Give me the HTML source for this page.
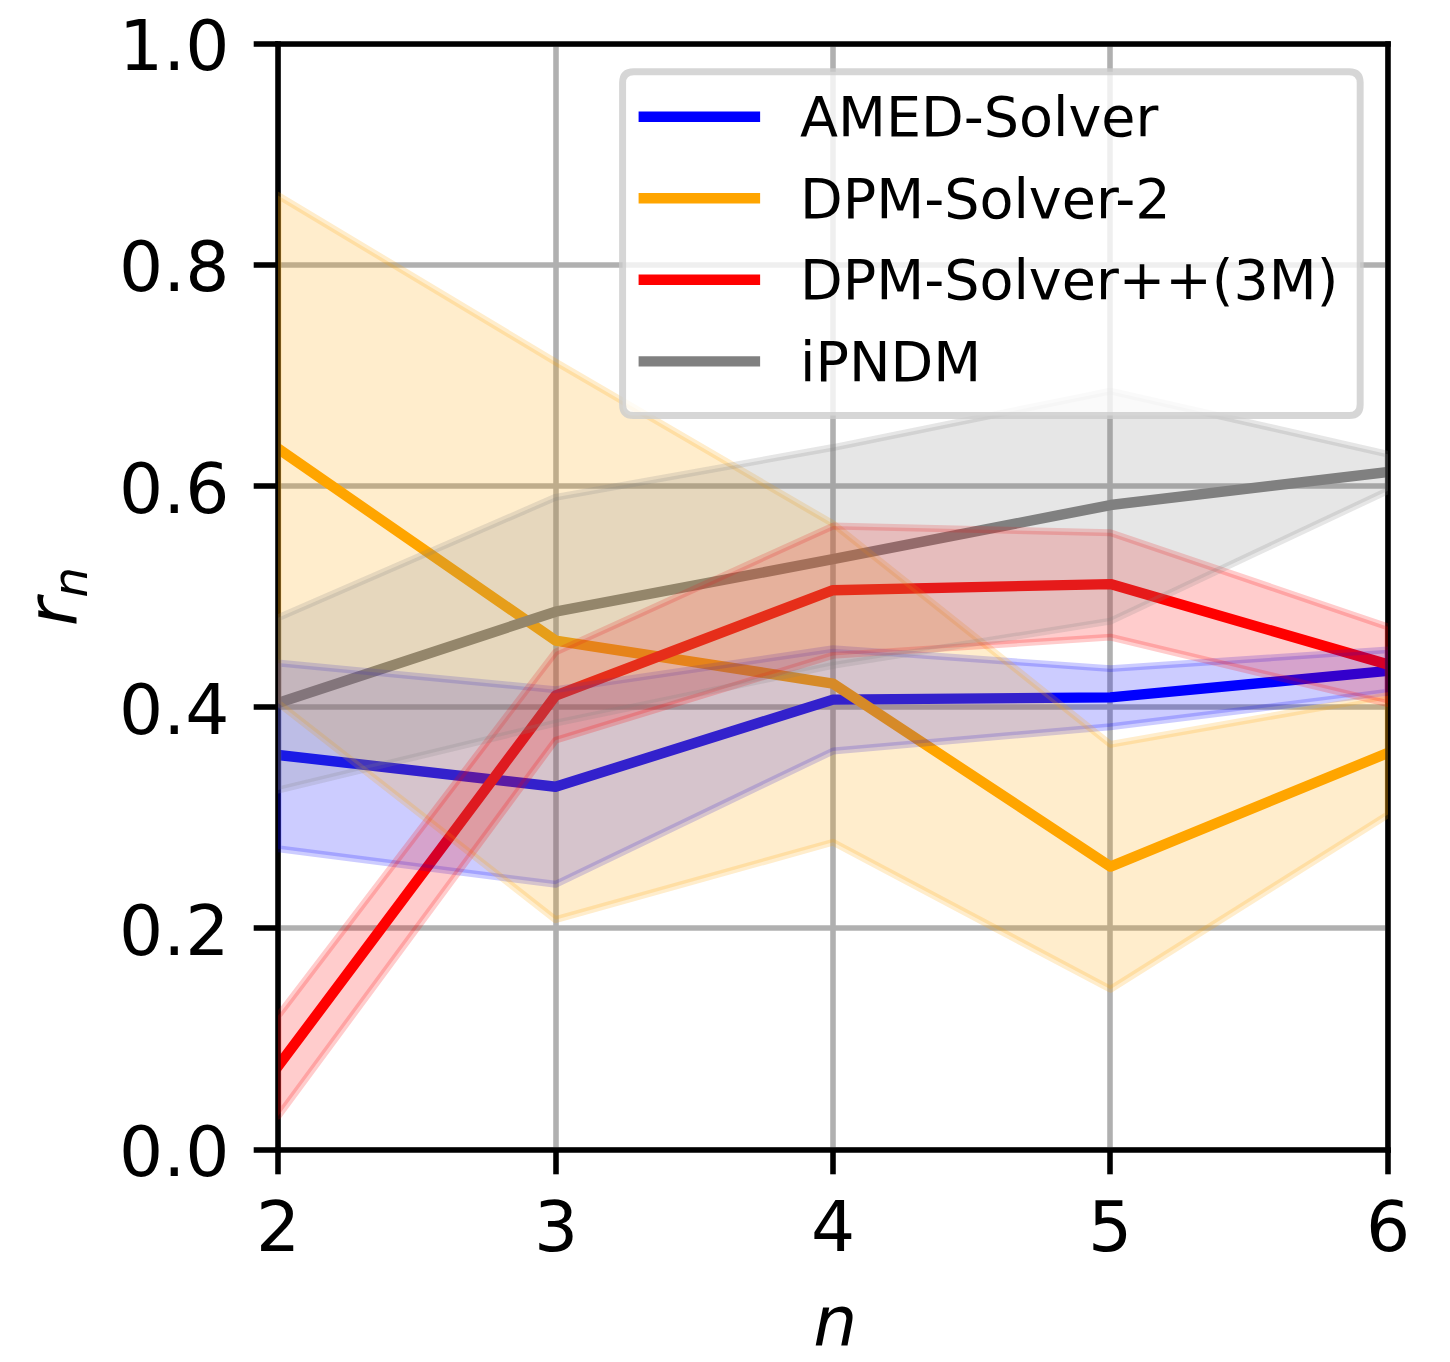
<!DOCTYPE html>
<html><head><meta charset="utf-8"><title>r_n vs n</title>
<style>html,body{margin:0;padding:0;background:#fff;overflow:hidden}svg{display:block}</style>
</head><body>
<svg width="1450" height="1362" viewBox="0 0 1450 1362">
<defs><clipPath id="ax"><rect x="278" y="44" width="1110" height="1106"/></clipPath></defs>
<rect x="0" y="0" width="1450" height="1362" fill="#ffffff"/>
<g clip-path="url(#ax)" fill="none" stroke="#b0b0b0" stroke-width="5.5556" stroke-linecap="square">
<path d="M278 1150V44"/>
<path d="M556 1150V44"/>
<path d="M833 1150V44"/>
<path d="M1110 1150V44"/>
<path d="M1388 1150V44"/>
<path d="M278 1150H1388"/>
<path d="M278 928H1388"/>
<path d="M278 707H1388"/>
<path d="M278 486H1388"/>
<path d="M278 265H1388"/>
<path d="M278 44H1388"/>
</g>
<g clip-path="url(#ax)" fill="none" stroke-width="10.4167" stroke-linecap="square" stroke-linejoin="round">
<path d="M278.05 754.90 L555.53 786.74 L833.00 699.62 L1110.48 697.41 L1387.95 670.88" stroke="#0000ff"/>
<path d="M278.05 448.65 L555.53 640.58 L833.00 683.59 L1110.48 866.57 L1387.95 752.91" stroke="#ffa500"/>
<path d="M278.05 1066.24 L555.53 695.64 L833.00 590.17 L1110.48 584.09 L1387.95 664.46" stroke="#ff0000"/>
<path d="M278.05 702.94 L555.53 611.73 L833.00 559.21 L1110.48 505.04 L1387.95 471.98" stroke="#808080"/>
</g>
<g fill="none" stroke="#000000" stroke-width="5.5556" stroke-linecap="square" stroke-linejoin="miter">
<path d="M278 1150V44"/><path d="M1388 1150V44"/><path d="M278 1150H1388"/><path d="M278 44H1388"/>
</g>
<g clip-path="url(#ax)" stroke-width="6.9444" stroke-linejoin="round">
<path d="M278.05 848.77 L555.53 884.26 L833.00 751.03 L1110.48 726.71 L1387.95 692.32 L1387.95 649.87 L1110.48 668.66 L833.00 648.76 L555.53 689.67 L278.05 662.91Z" fill="#0000ff" fill-opacity="0.2" stroke="#0000ff" stroke-opacity="0.2"/>
<path d="M278.05 702.94 L555.53 919.64 L833.00 842.24 L1110.48 989.29 L1387.95 814.60 L1387.95 695.64 L1110.48 744.40 L833.00 523.83 L555.53 361.97 L278.05 195.47Z" fill="#ffa500" fill-opacity="0.2" stroke="#ffa500" stroke-opacity="0.2"/>
<path d="M278.05 1116.21 L555.53 740.20 L833.00 655.40 L1110.48 637.15 L1387.95 703.60 L1387.95 626.87 L1110.48 532.68 L833.00 526.04 L555.53 652.08 L278.05 1015.82Z" fill="#ff0000" fill-opacity="0.2" stroke="#ff0000" stroke-opacity="0.2"/>
<path d="M278.05 790.06 L555.53 723.06 L833.00 665.35 L1110.48 621.12 L1387.95 490.66 L1387.95 454.18 L1110.48 391.16 L833.00 447.54 L555.53 497.30 L278.05 617.81Z" fill="#808080" fill-opacity="0.2" stroke="#808080" stroke-opacity="0.2"/>
</g>
<g stroke="#000000" stroke-width="5.5556">
<path d="M278 1150v24.306"/>
<path d="M556 1150v24.306"/>
<path d="M833 1150v24.306"/>
<path d="M1110 1150v24.306"/>
<path d="M1388 1150v24.306"/>
<path d="M278 1150h-24.306"/>
<path d="M278 928h-24.306"/>
<path d="M278 707h-24.306"/>
<path d="M278 486h-24.306"/>
<path d="M278 265h-24.306"/>
<path d="M278 44h-24.306"/>
</g>
<g font-family="'DejaVu Sans', sans-serif" font-size="69.444" fill="#000000">
<text x="278.00" y="1251.28" text-anchor="middle">2</text>
<text x="556.00" y="1251.28" text-anchor="middle">3</text>
<text x="833.00" y="1251.28" text-anchor="middle">4</text>
<text x="1110.00" y="1251.28" text-anchor="middle">5</text>
<text x="1388.00" y="1251.28" text-anchor="middle">6</text>
<text x="229.44" y="1176" text-anchor="end">0.0</text>
<text x="229.44" y="955" text-anchor="end">0.2</text>
<text x="229.44" y="734" text-anchor="end">0.4</text>
<text x="229.44" y="513" text-anchor="end">0.6</text>
<text x="229.44" y="291" text-anchor="end">0.8</text>
<text x="229.44" y="70" text-anchor="end">1.0</text>
</g>
<text x="813.18" y="1346.44" font-family="'DejaVu Sans', sans-serif" font-style="oblique" font-size="69.444">n</text>
<g transform="translate(78.68 626.23) rotate(-90)"><text y="-2.82" font-family="'DejaVu Sans', sans-serif" font-style="oblique" font-size="69.444">r<tspan x="28.55" y="8.57" font-size="48.611">n</tspan></text></g>
<path d="M633.69 415.57H1349.06Q1360.17 415.57 1360.17 404.46V82.84Q1360.17 71.73 1349.06 71.73H633.69Q622.58 71.73 622.58 82.84V404.46Q622.58 415.57 633.69 415.57Z" fill="#ffffff" fill-opacity="0.8" stroke="#cccccc" stroke-opacity="0.8" stroke-width="6.9444" stroke-linejoin="miter"/>
<path d="M643.80 116.72H754.91" stroke="#0000ff" stroke-width="10.4167" stroke-linecap="square" fill="none"/>
<text x="799.96" y="136.16" font-family="'DejaVu Sans', sans-serif" font-size="55.556">AMED-Solver</text>
<path d="M643.80 198.26H754.91" stroke="#ffa500" stroke-width="10.4167" stroke-linecap="square" fill="none"/>
<text x="799.96" y="217.71" font-family="'DejaVu Sans', sans-serif" font-size="55.556">DPM-Solver-2</text>
<path d="M643.80 279.81H754.91" stroke="#ff0000" stroke-width="10.4167" stroke-linecap="square" fill="none"/>
<text x="799.96" y="299.25" font-family="'DejaVu Sans', sans-serif" font-size="55.556">DPM-Solver++(3M)</text>
<path d="M643.80 361.35H754.91" stroke="#808080" stroke-width="10.4167" stroke-linecap="square" fill="none"/>
<text x="799.96" y="380.80" font-family="'DejaVu Sans', sans-serif" font-size="55.556">iPNDM</text>
</svg>
</body></html>
